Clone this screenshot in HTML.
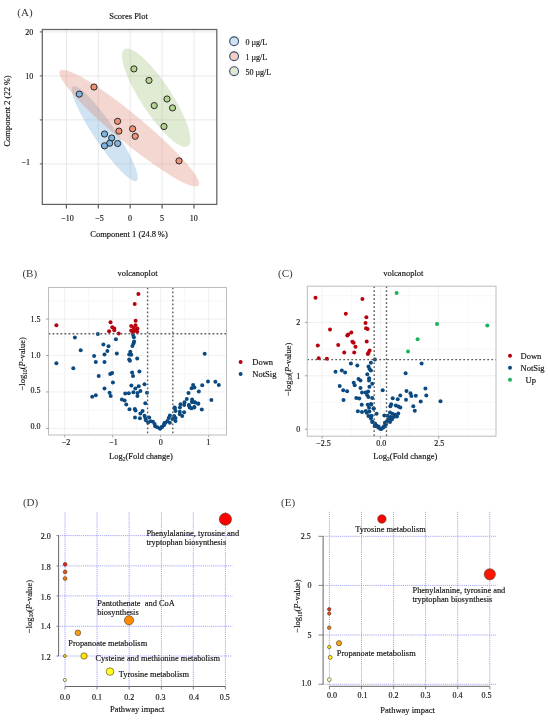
<!DOCTYPE html>
<html><head><meta charset="utf-8"><style>
html,body{margin:0;padding:0;background:#fff;}
svg{display:block;filter:blur(0.4px);}
text{font-family:"Liberation Serif", serif;fill:#111;stroke:#111;stroke-width:0.15px;}
</style></head><body>
<svg width="550" height="720" viewBox="0 0 550 720">
<rect width="550" height="720" fill="#fff"/>
<text x="17.3" y="15.8" font-size="11" text-anchor="start" style="stroke-width:0;fill:#3a3a3a">(A)</text>
<text x="128.6" y="18.6" font-size="8.5" text-anchor="middle" >Scores Plot</text>
<line x1="66.39999999999999" y1="29.5" x2="66.39999999999999" y2="204.4" stroke="#e3e3e3" stroke-width="0.8" />
<line x1="98.29999999999998" y1="29.5" x2="98.29999999999998" y2="204.4" stroke="#e3e3e3" stroke-width="0.8" />
<line x1="130.2" y1="29.5" x2="130.2" y2="204.4" stroke="#e3e3e3" stroke-width="0.8" />
<line x1="162.1" y1="29.5" x2="162.1" y2="204.4" stroke="#e3e3e3" stroke-width="0.8" />
<line x1="194.0" y1="29.5" x2="194.0" y2="204.4" stroke="#e3e3e3" stroke-width="0.8" />
<line x1="42.3" y1="31.900000000000006" x2="216.8" y2="31.900000000000006" stroke="#e3e3e3" stroke-width="0.8" />
<line x1="42.3" y1="75.9" x2="216.8" y2="75.9" stroke="#e3e3e3" stroke-width="0.8" />
<line x1="42.3" y1="119.9" x2="216.8" y2="119.9" stroke="#e3e3e3" stroke-width="0.8" />
<line x1="42.3" y1="163.9" x2="216.8" y2="163.9" stroke="#e3e3e3" stroke-width="0.8" />
<ellipse cx="104.8" cy="133.7" rx="57" ry="10.5" transform="rotate(56 104.8 133.7)" fill="#62a2d6" fill-opacity="0.3"/>
<ellipse cx="129.3" cy="128.2" rx="90" ry="14" transform="rotate(39.6 129.3 128.2)" fill="#dc7a62" fill-opacity="0.3"/>
<ellipse cx="156.2" cy="97.7" rx="58" ry="15.3" transform="rotate(56.8 156.2 97.7)" fill="#95b866" fill-opacity="0.28"/>
<circle cx="133.9" cy="68.9" r="3.1" fill="#b5d38c" stroke="#222" stroke-width="0.95"/>
<circle cx="149" cy="80.4" r="3.1" fill="#b5d38c" stroke="#222" stroke-width="0.95"/>
<circle cx="167" cy="99" r="3.1" fill="#b5d38c" stroke="#222" stroke-width="0.95"/>
<circle cx="154.2" cy="105.6" r="3.1" fill="#b5d38c" stroke="#222" stroke-width="0.95"/>
<circle cx="172.5" cy="107.9" r="3.1" fill="#b5d38c" stroke="#222" stroke-width="0.95"/>
<circle cx="164" cy="126.5" r="3.1" fill="#b5d38c" stroke="#222" stroke-width="0.95"/>
<circle cx="94" cy="87" r="3.1" fill="#f09276" stroke="#222" stroke-width="0.95"/>
<circle cx="117.6" cy="121.3" r="3.1" fill="#f09276" stroke="#222" stroke-width="0.95"/>
<circle cx="118.9" cy="131.1" r="3.1" fill="#f09276" stroke="#222" stroke-width="0.95"/>
<circle cx="132.6" cy="128.8" r="3.1" fill="#f09276" stroke="#222" stroke-width="0.95"/>
<circle cx="135.2" cy="136.3" r="3.1" fill="#f09276" stroke="#222" stroke-width="0.95"/>
<circle cx="179" cy="160.9" r="3.1" fill="#f09276" stroke="#222" stroke-width="0.95"/>
<circle cx="79.3" cy="94.1" r="3.1" fill="#80b3e0" stroke="#222" stroke-width="0.95"/>
<circle cx="104.5" cy="134" r="3.1" fill="#80b3e0" stroke="#222" stroke-width="0.95"/>
<circle cx="111.7" cy="138" r="3.1" fill="#80b3e0" stroke="#222" stroke-width="0.95"/>
<circle cx="109.7" cy="143.2" r="3.1" fill="#80b3e0" stroke="#222" stroke-width="0.95"/>
<circle cx="104.5" cy="145.8" r="3.1" fill="#80b3e0" stroke="#222" stroke-width="0.95"/>
<circle cx="117.6" cy="143.5" r="3.1" fill="#80b3e0" stroke="#222" stroke-width="0.95"/>
<rect x="42.3" y="29.5" width="174.5" height="174.9" fill="none" stroke="#636363" stroke-width="1.25"/>
<line x1="66.39999999999999" y1="204.4" x2="66.39999999999999" y2="208.4" stroke="#5a5a5a" stroke-width="1.2" />
<text x="67.6" y="220.8" font-size="8" text-anchor="middle" >&#8722;10</text>
<line x1="98.29999999999998" y1="204.4" x2="98.29999999999998" y2="208.4" stroke="#5a5a5a" stroke-width="1.2" />
<text x="99.49999999999999" y="220.8" font-size="8" text-anchor="middle" >&#8722;5</text>
<line x1="130.2" y1="204.4" x2="130.2" y2="208.4" stroke="#5a5a5a" stroke-width="1.2" />
<text x="130.0" y="220.8" font-size="8" text-anchor="middle" >0</text>
<line x1="162.1" y1="204.4" x2="162.1" y2="208.4" stroke="#5a5a5a" stroke-width="1.2" />
<text x="161.9" y="220.8" font-size="8" text-anchor="middle" >5</text>
<line x1="194.0" y1="204.4" x2="194.0" y2="208.4" stroke="#5a5a5a" stroke-width="1.2" />
<text x="193.8" y="220.8" font-size="8" text-anchor="middle" >10</text>
<line x1="39.8" y1="31.900000000000006" x2="42.3" y2="31.900000000000006" stroke="#5a5a5a" stroke-width="1" />
<line x1="39.8" y1="75.9" x2="42.3" y2="75.9" stroke="#5a5a5a" stroke-width="1" />
<line x1="39.8" y1="119.9" x2="42.3" y2="119.9" stroke="#5a5a5a" stroke-width="1" />
<line x1="39.8" y1="163.9" x2="42.3" y2="163.9" stroke="#5a5a5a" stroke-width="1" />
<text x="33.3" y="34.5" font-size="8" text-anchor="end" >20</text>
<text x="33.3" y="78.5" font-size="8" text-anchor="end" >10</text>
<text x="30" y="165.4" font-size="8" text-anchor="end" >&#8722;1</text>
<text x="129" y="237.3" font-size="8.5" text-anchor="middle" >Component 1 (24.8&#8201;%)</text>
<text x="0" y="0" font-size="8.5" text-anchor="middle" transform="translate(10.2 111) rotate(-90)">Component 2 (22&#8201;%)</text>
<circle cx="234.1" cy="41.3" r="4.4" fill="#cfe2f3" stroke="#3c4a68" stroke-width="1.1"/>
<text x="245.5" y="45.4" font-size="8" text-anchor="start" >0 &#181;g/L</text>
<circle cx="234.1" cy="56.25" r="4.4" fill="#f4cfc6" stroke="#3c4a68" stroke-width="1.1"/>
<text x="245.5" y="60.35" font-size="8" text-anchor="start" >1 &#181;g/L</text>
<circle cx="234.1" cy="71.19999999999999" r="4.4" fill="#dfeacf" stroke="#3c4a68" stroke-width="1.1"/>
<text x="245.5" y="75.29999999999998" font-size="8" text-anchor="start" >50 &#181;g/L</text>
<text x="22.4" y="276.6" font-size="11" text-anchor="start" style="stroke-width:0;fill:#3a3a3a">(B)</text>
<text x="137.5" y="275.8" font-size="8.5" text-anchor="middle" >volcanoplot</text>
<line x1="88.69999999999999" y1="287.5" x2="88.69999999999999" y2="435" stroke="#f3f3f3" stroke-width="0.6" />
<line x1="136.7" y1="287.5" x2="136.7" y2="435" stroke="#f3f3f3" stroke-width="0.6" />
<line x1="184.7" y1="287.5" x2="184.7" y2="435" stroke="#f3f3f3" stroke-width="0.6" />
<line x1="48.5" y1="410.17499999999995" x2="226.5" y2="410.17499999999995" stroke="#f3f3f3" stroke-width="0.6" />
<line x1="48.5" y1="373.72499999999997" x2="226.5" y2="373.72499999999997" stroke="#f3f3f3" stroke-width="0.6" />
<line x1="48.5" y1="337.275" x2="226.5" y2="337.275" stroke="#f3f3f3" stroke-width="0.6" />
<line x1="48.5" y1="300.82499999999993" x2="226.5" y2="300.82499999999993" stroke="#f3f3f3" stroke-width="0.6" />
<line x1="64.69999999999999" y1="287.5" x2="64.69999999999999" y2="435" stroke="#eaeaea" stroke-width="0.7" />
<line x1="112.69999999999999" y1="287.5" x2="112.69999999999999" y2="435" stroke="#eaeaea" stroke-width="0.7" />
<line x1="160.7" y1="287.5" x2="160.7" y2="435" stroke="#eaeaea" stroke-width="0.7" />
<line x1="208.7" y1="287.5" x2="208.7" y2="435" stroke="#eaeaea" stroke-width="0.7" />
<line x1="48.5" y1="428.4" x2="226.5" y2="428.4" stroke="#eaeaea" stroke-width="0.7" />
<line x1="48.5" y1="391.95" x2="226.5" y2="391.95" stroke="#eaeaea" stroke-width="0.7" />
<line x1="48.5" y1="355.5" x2="226.5" y2="355.5" stroke="#eaeaea" stroke-width="0.7" />
<line x1="48.5" y1="319.04999999999995" x2="226.5" y2="319.04999999999995" stroke="#eaeaea" stroke-width="0.7" />
<g fill="#0b4a80"><circle cx="74.9" cy="337.4" r="2.0"/><circle cx="97.8" cy="334.1" r="2.0"/><circle cx="103.4" cy="344.6" r="2.0"/><circle cx="115.9" cy="339.3" r="2.0"/><circle cx="108.5" cy="346.2" r="2.0"/><circle cx="133.1" cy="335" r="2.0"/><circle cx="133.9" cy="337.2" r="2.0"/><circle cx="134.1" cy="341.5" r="2.0"/><circle cx="133.5" cy="343.6" r="2.0"/><circle cx="132.4" cy="346.1" r="2.0"/><circle cx="80.7" cy="350.2" r="2.0"/><circle cx="56.4" cy="363.2" r="2.0"/><circle cx="73.3" cy="368.2" r="2.0"/><circle cx="94.1" cy="355.9" r="2.0"/><circle cx="95.8" cy="362.1" r="2.0"/><circle cx="104.5" cy="354.5" r="2.0"/><circle cx="104.5" cy="361.9" r="2.0"/><circle cx="107.4" cy="351" r="2.0"/><circle cx="98.7" cy="376.1" r="2.0"/><circle cx="104.5" cy="388.4" r="2.0"/><circle cx="95.8" cy="395.2" r="2.0"/><circle cx="92.2" cy="396.8" r="2.0"/><circle cx="116.8" cy="353.4" r="2.0"/><circle cx="130.3" cy="351.8" r="2.0"/><circle cx="129.2" cy="354.6" r="2.0"/><circle cx="131.3" cy="354.7" r="2.0"/><circle cx="129.2" cy="359.4" r="2.0"/><circle cx="129.9" cy="360.8" r="2.0"/><circle cx="137.2" cy="358.5" r="2.0"/><circle cx="110.2" cy="373.9" r="2.0"/><circle cx="112.1" cy="373.1" r="2.0"/><circle cx="132.1" cy="372.4" r="2.0"/><circle cx="133" cy="375.9" r="2.0"/><circle cx="139.4" cy="371.4" r="2.0"/><circle cx="112.9" cy="382.4" r="2.0"/><circle cx="109.6" cy="392.7" r="2.0"/><circle cx="110.7" cy="395.9" r="2.0"/><circle cx="131.4" cy="385.6" r="2.0"/><circle cx="135.3" cy="388.5" r="2.0"/><circle cx="138.7" cy="386.2" r="2.0"/><circle cx="144.5" cy="384.2" r="2.0"/><circle cx="125.2" cy="393.5" r="2.0"/><circle cx="128.8" cy="393.2" r="2.0"/><circle cx="133.4" cy="392.2" r="2.0"/><circle cx="137.5" cy="393" r="2.0"/><circle cx="140.4" cy="391" r="2.0"/><circle cx="137.4" cy="396" r="2.0"/><circle cx="147" cy="392.7" r="2.0"/><circle cx="121.9" cy="399.5" r="2.0"/><circle cx="124.6" cy="400.6" r="2.0"/><circle cx="126.3" cy="404.4" r="2.0"/><circle cx="145.3" cy="403.3" r="2.0"/><circle cx="204.7" cy="353.7" r="2.0"/><circle cx="208" cy="381.4" r="2.0"/><circle cx="215.4" cy="381.7" r="2.0"/><circle cx="218.8" cy="384.9" r="2.0"/><circle cx="202.2" cy="385.3" r="2.0"/><circle cx="193.1" cy="385.1" r="2.0"/><circle cx="191.6" cy="388.3" r="2.0"/><circle cx="194.4" cy="387.4" r="2.0"/><circle cx="198.8" cy="391.4" r="2.0"/><circle cx="188.5" cy="393.1" r="2.0"/><circle cx="211.4" cy="400" r="2.0"/><circle cx="186.8" cy="399.1" r="2.0"/><circle cx="192.1" cy="399.4" r="2.0"/><circle cx="191.9" cy="401.9" r="2.0"/><circle cx="194.6" cy="402.3" r="2.0"/><circle cx="198.2" cy="403.6" r="2.0"/><circle cx="184.5" cy="402.3" r="2.0"/><circle cx="180.5" cy="404.3" r="2.0"/><circle cx="188.8" cy="405.1" r="2.0"/><circle cx="184.2" cy="405.1" r="2.0"/><circle cx="194.2" cy="407.4" r="2.0"/><circle cx="174.7" cy="407.4" r="2.0"/><circle cx="179.9" cy="407.4" r="2.0"/><circle cx="129.5" cy="409.3" r="2.0"/><circle cx="134.8" cy="408.9" r="2.0"/><circle cx="135.5" cy="410.4" r="2.0"/><circle cx="142.6" cy="410.9" r="2.0"/><circle cx="140.4" cy="413.6" r="2.0"/><circle cx="135" cy="417.4" r="2.0"/><circle cx="139.9" cy="418.3" r="2.0"/><circle cx="144.5" cy="415.8" r="2.0"/><circle cx="145.3" cy="418" r="2.0"/><circle cx="145.9" cy="420.2" r="2.0"/><circle cx="148.1" cy="422.4" r="2.0"/><circle cx="149.2" cy="417.4" r="2.0"/><circle cx="150.8" cy="421.3" r="2.0"/><circle cx="153" cy="421.8" r="2.0"/><circle cx="154.6" cy="424" r="2.0"/><circle cx="155.2" cy="426.2" r="2.0"/><circle cx="157.3" cy="427.3" r="2.0"/><circle cx="160.1" cy="428.6" r="2.0"/><circle cx="161.7" cy="427.3" r="2.0"/><circle cx="163.9" cy="425.1" r="2.0"/><circle cx="164.4" cy="422.9" r="2.0"/><circle cx="192.4" cy="401.8" r="2.0"/><circle cx="195.2" cy="402.4" r="2.0"/><circle cx="198.3" cy="403.7" r="2.0"/><circle cx="189" cy="405.5" r="2.0"/><circle cx="189.7" cy="407.4" r="2.0"/><circle cx="194.4" cy="407.1" r="2.0"/><circle cx="191.5" cy="408.3" r="2.0"/><circle cx="201.8" cy="409.6" r="2.0"/><circle cx="174.8" cy="408.6" r="2.0"/><circle cx="175.5" cy="411.1" r="2.0"/><circle cx="179.8" cy="411.7" r="2.0"/><circle cx="184.1" cy="412.3" r="2.0"/><circle cx="179.8" cy="414.2" r="2.0"/><circle cx="182.2" cy="416" r="2.0"/><circle cx="174.2" cy="416" r="2.0"/><circle cx="169.9" cy="415.4" r="2.0"/><circle cx="168.7" cy="417.9" r="2.0"/><circle cx="175.5" cy="417.9" r="2.0"/><circle cx="172.4" cy="419.1" r="2.0"/><circle cx="175.5" cy="421" r="2.0"/><circle cx="167.4" cy="421" r="2.0"/><circle cx="165.6" cy="422.8" r="2.0"/><circle cx="169.9" cy="422.8" r="2.0"/><circle cx="163.7" cy="425.3" r="2.0"/><circle cx="161.9" cy="427.1" r="2.0"/><circle cx="160" cy="428.4" r="2.0"/></g>
<g fill="#b8000f"><circle cx="56.4" cy="325.2" r="2.0"/><circle cx="138.4" cy="294.1" r="2.0"/><circle cx="134.7" cy="303.9" r="2.0"/><circle cx="135.6" cy="320.8" r="2.0"/><circle cx="110.5" cy="322.2" r="2.0"/><circle cx="112.3" cy="327.3" r="2.0"/><circle cx="114.3" cy="328.4" r="2.0"/><circle cx="114.3" cy="330.3" r="2.0"/><circle cx="109.1" cy="331.2" r="2.0"/><circle cx="118.7" cy="333.6" r="2.0"/><circle cx="131.2" cy="325.9" r="2.0"/><circle cx="135.5" cy="325.2" r="2.0"/><circle cx="133.9" cy="327.9" r="2.0"/><circle cx="137.4" cy="328.4" r="2.0"/><circle cx="131.2" cy="330.6" r="2.0"/><circle cx="135" cy="330.6" r="2.0"/><circle cx="137.2" cy="331.7" r="2.0"/><circle cx="132.8" cy="332.3" r="2.0"/></g>
<line x1="147.6" y1="287.5" x2="147.6" y2="435" stroke="#5c5c5c" stroke-width="1.4" stroke-dasharray="1.8 2.2"/>
<line x1="172.8" y1="287.5" x2="172.8" y2="435" stroke="#5c5c5c" stroke-width="1.4" stroke-dasharray="1.8 2.2"/>
<line x1="48.5" y1="333.7" x2="226.5" y2="333.7" stroke="#5c5c5c" stroke-width="1.4" stroke-dasharray="1.8 2.2"/>
<rect x="48.5" y="287.5" width="178.0" height="147.5" fill="none" stroke="#bdbdbd" stroke-width="1"/>
<line x1="64.69999999999999" y1="435" x2="64.69999999999999" y2="437.5" stroke="#999" stroke-width="0.8" />
<text x="66.0" y="444.8" font-size="8" text-anchor="middle" >&#8722;2</text>
<line x1="112.69999999999999" y1="435" x2="112.69999999999999" y2="437.5" stroke="#999" stroke-width="0.8" />
<text x="113.6" y="444.8" font-size="8" text-anchor="middle" >&#8722;1</text>
<line x1="160.7" y1="435" x2="160.7" y2="437.5" stroke="#999" stroke-width="0.8" />
<text x="160.8" y="444.8" font-size="8" text-anchor="middle" >0</text>
<line x1="208.7" y1="435" x2="208.7" y2="437.5" stroke="#999" stroke-width="0.8" />
<text x="208.2" y="444.8" font-size="8" text-anchor="middle" >1</text>
<line x1="46.0" y1="428.4" x2="48.5" y2="428.4" stroke="#888" stroke-width="0.8" />
<text x="40.6" y="429.0" font-size="8" text-anchor="end" >0.0</text>
<line x1="46.0" y1="391.95" x2="48.5" y2="391.95" stroke="#888" stroke-width="0.8" />
<text x="40.6" y="393.3" font-size="8" text-anchor="end" >0.5</text>
<line x1="46.0" y1="355.5" x2="48.5" y2="355.5" stroke="#888" stroke-width="0.8" />
<text x="40.6" y="358.09999999999997" font-size="8" text-anchor="end" >1.0</text>
<line x1="46.0" y1="319.04999999999995" x2="48.5" y2="319.04999999999995" stroke="#888" stroke-width="0.8" />
<text x="40.6" y="321.59999999999997" font-size="8" text-anchor="end" >1.5</text>
<text x="141" y="459.3" font-size="8.5" text-anchor="middle">Log<tspan font-size="5.5" dy="1.5">2</tspan><tspan dy="-1.5">(Fold change)</tspan></text>
<text x="0" y="0" font-size="8.5" text-anchor="middle" transform="translate(25.2 363.8) rotate(-90)">&#8722;log<tspan font-size="5.5" dy="1.5">10</tspan><tspan dy="-1.5">(</tspan><tspan font-style="italic">P</tspan>-value)</text>
<circle cx="240.6" cy="361.9" r="2" fill="#b8000f"/><circle cx="240.6" cy="373.9" r="2" fill="#0b4a80"/>
<text x="252.3" y="364.6" font-size="8.5" text-anchor="start" >Down</text>
<text x="252.3" y="376.6" font-size="8.5" text-anchor="start" >NotSig</text>
<text x="278" y="276.5" font-size="11" text-anchor="start" style="stroke-width:0;fill:#3a3a3a">(C)</text>
<text x="403.3" y="275.7" font-size="8.5" text-anchor="middle" >volcanoplot</text>
<line x1="351.275" y1="286.2" x2="351.275" y2="436.2" stroke="#f3f3f3" stroke-width="0.6" />
<line x1="409.525" y1="286.2" x2="409.525" y2="436.2" stroke="#f3f3f3" stroke-width="0.6" />
<line x1="467.775" y1="286.2" x2="467.775" y2="436.2" stroke="#f3f3f3" stroke-width="0.6" />
<line x1="307.3" y1="402.5" x2="496" y2="402.5" stroke="#f3f3f3" stroke-width="0.6" />
<line x1="307.3" y1="349.1" x2="496" y2="349.1" stroke="#f3f3f3" stroke-width="0.6" />
<line x1="307.3" y1="295.7" x2="496" y2="295.7" stroke="#f3f3f3" stroke-width="0.6" />
<line x1="322.15" y1="286.2" x2="322.15" y2="436.2" stroke="#eaeaea" stroke-width="0.7" />
<line x1="380.4" y1="286.2" x2="380.4" y2="436.2" stroke="#eaeaea" stroke-width="0.7" />
<line x1="438.65" y1="286.2" x2="438.65" y2="436.2" stroke="#eaeaea" stroke-width="0.7" />
<line x1="307.3" y1="429.2" x2="496" y2="429.2" stroke="#eaeaea" stroke-width="0.7" />
<line x1="307.3" y1="375.8" x2="496" y2="375.8" stroke="#eaeaea" stroke-width="0.7" />
<line x1="307.3" y1="322.4" x2="496" y2="322.4" stroke="#eaeaea" stroke-width="0.7" />
<g fill="#0b4a80"><circle cx="374.9" cy="359.5" r="2.0"/><circle cx="370.9" cy="362.7" r="2.0"/><circle cx="350.9" cy="363.6" r="2.0"/><circle cx="357.3" cy="365.5" r="2.0"/><circle cx="368.5" cy="366.4" r="2.0"/><circle cx="369.5" cy="369.1" r="2.0"/><circle cx="370.9" cy="370.4" r="2.0"/><circle cx="335.5" cy="371.8" r="2.0"/><circle cx="341.8" cy="370.4" r="2.0"/><circle cx="345.1" cy="372.4" r="2.0"/><circle cx="367.3" cy="374.2" r="2.0"/><circle cx="358.5" cy="379.1" r="2.0"/><circle cx="369.1" cy="378.2" r="2.0"/><circle cx="421.6" cy="363.4" r="2.0"/><circle cx="405.6" cy="373.2" r="2.0"/><circle cx="360.5" cy="380.6" r="2.0"/><circle cx="369" cy="380.4" r="2.0"/><circle cx="353.7" cy="382.7" r="2.0"/><circle cx="354.7" cy="385.2" r="2.0"/><circle cx="372.2" cy="383.8" r="2.0"/><circle cx="339.7" cy="386.1" r="2.0"/><circle cx="369.4" cy="386.7" r="2.0"/><circle cx="360.5" cy="388" r="2.0"/><circle cx="343.2" cy="390.3" r="2.0"/><circle cx="347.1" cy="391.2" r="2.0"/><circle cx="362" cy="392.5" r="2.0"/><circle cx="365.6" cy="392.5" r="2.0"/><circle cx="368.1" cy="391.6" r="2.0"/><circle cx="367.1" cy="395" r="2.0"/><circle cx="368.4" cy="396.9" r="2.0"/><circle cx="372.2" cy="397.9" r="2.0"/><circle cx="356.3" cy="397.9" r="2.0"/><circle cx="359.2" cy="398.4" r="2.0"/><circle cx="343.5" cy="400.1" r="2.0"/><circle cx="361.7" cy="404.8" r="2.0"/><circle cx="367.7" cy="404.8" r="2.0"/><circle cx="370.9" cy="403.9" r="2.0"/><circle cx="369" cy="407.7" r="2.0"/><circle cx="373.5" cy="408.4" r="2.0"/><circle cx="357.9" cy="411.3" r="2.0"/><circle cx="362" cy="411.9" r="2.0"/><circle cx="365.8" cy="410.9" r="2.0"/><circle cx="366.8" cy="412.8" r="2.0"/><circle cx="369.4" cy="411.5" r="2.0"/><circle cx="368.4" cy="416" r="2.0"/><circle cx="371.5" cy="416" r="2.0"/><circle cx="370.9" cy="418.5" r="2.0"/><circle cx="372.2" cy="422.1" r="2.0"/><circle cx="374.7" cy="423.6" r="2.0"/><circle cx="374.7" cy="426.2" r="2.0"/><circle cx="382.7" cy="390.3" r="2.0"/><circle cx="425.4" cy="388.5" r="2.0"/><circle cx="406.5" cy="391" r="2.0"/><circle cx="410.5" cy="393.2" r="2.0"/><circle cx="411.4" cy="396" r="2.0"/><circle cx="415.8" cy="395.7" r="2.0"/><circle cx="426.3" cy="395.5" r="2.0"/><circle cx="400.3" cy="395.5" r="2.0"/><circle cx="392.7" cy="398.3" r="2.0"/><circle cx="397.7" cy="399.2" r="2.0"/><circle cx="406" cy="399.8" r="2.0"/><circle cx="420.7" cy="401.5" r="2.0"/><circle cx="440.5" cy="401.2" r="2.0"/><circle cx="413.3" cy="406.3" r="2.0"/><circle cx="414.8" cy="410.7" r="2.0"/><circle cx="391.2" cy="404.3" r="2.0"/><circle cx="390.4" cy="406.3" r="2.0"/><circle cx="395.8" cy="405.6" r="2.0"/><circle cx="398.4" cy="406.6" r="2.0"/><circle cx="400.3" cy="407.4" r="2.0"/><circle cx="390" cy="412.5" r="2.0"/><circle cx="392.5" cy="413.8" r="2.0"/><circle cx="395.1" cy="414.7" r="2.0"/><circle cx="398.3" cy="413.4" r="2.0"/><circle cx="384.3" cy="415.5" r="2.0"/><circle cx="387.5" cy="415.7" r="2.0"/><circle cx="390.6" cy="417" r="2.0"/><circle cx="393.8" cy="417" r="2.0"/><circle cx="397" cy="416.4" r="2.0"/><circle cx="388.7" cy="418.9" r="2.0"/><circle cx="391.9" cy="419.5" r="2.0"/><circle cx="390" cy="422.1" r="2.0"/><circle cx="386.8" cy="421.5" r="2.0"/><circle cx="384.9" cy="422.7" r="2.0"/><circle cx="385.9" cy="424.4" r="2.0"/><circle cx="384" cy="426.3" r="2.0"/><circle cx="382.1" cy="428.2" r="2.0"/><circle cx="380.2" cy="428.8" r="2.0"/><circle cx="378.3" cy="427.5" r="2.0"/><circle cx="376.4" cy="425.6" r="2.0"/><circle cx="375.1" cy="423.7" r="2.0"/><circle cx="372.5" cy="421.8" r="2.0"/><circle cx="376.6" cy="413.8" r="2.0"/><circle cx="373.8" cy="408.5" r="2.0"/><circle cx="371.3" cy="404.6" r="2.0"/><circle cx="371.3" cy="416.1" r="2.0"/><circle cx="378.5" cy="426.5" r="2.0"/><circle cx="381.1" cy="429.1" r="2.0"/><circle cx="383.6" cy="427.2" r="2.0"/></g>
<g fill="#b8000f"><circle cx="315.5" cy="297.8" r="2.0"/><circle cx="362.4" cy="299.1" r="2.0"/><circle cx="345.8" cy="313.8" r="2.0"/><circle cx="366.4" cy="317.3" r="2.0"/><circle cx="365.5" cy="323.1" r="2.0"/><circle cx="366" cy="328.2" r="2.0"/><circle cx="367.6" cy="329.1" r="2.0"/><circle cx="330" cy="329.5" r="2.0"/><circle cx="351.3" cy="332.4" r="2.0"/><circle cx="348.2" cy="334.5" r="2.0"/><circle cx="347.3" cy="335.6" r="2.0"/><circle cx="366.7" cy="341.5" r="2.0"/><circle cx="352.4" cy="341.8" r="2.0"/><circle cx="353.6" cy="342.7" r="2.0"/><circle cx="355.5" cy="346.7" r="2.0"/><circle cx="317.8" cy="345.5" r="2.0"/><circle cx="338.2" cy="344.9" r="2.0"/><circle cx="344.2" cy="352.4" r="2.0"/><circle cx="354.2" cy="352.4" r="2.0"/><circle cx="369.6" cy="350.5" r="2.0"/><circle cx="368.5" cy="352.7" r="2.0"/><circle cx="367.8" cy="354" r="2.0"/><circle cx="318.7" cy="358.2" r="2.0"/><circle cx="326.9" cy="358.7" r="2.0"/></g>
<g fill="#19b35c"><circle cx="396.6" cy="293" r="2.0"/><circle cx="437" cy="324" r="2.0"/><circle cx="417.6" cy="339.2" r="2.0"/><circle cx="408" cy="351.6" r="2.0"/><circle cx="487.3" cy="325.5" r="2.0"/></g>
<line x1="374.2" y1="286.2" x2="374.2" y2="436.2" stroke="#5c5c5c" stroke-width="1.4" stroke-dasharray="1.8 2.2"/>
<line x1="386.5" y1="286.2" x2="386.5" y2="436.2" stroke="#5c5c5c" stroke-width="1.4" stroke-dasharray="1.8 2.2"/>
<line x1="307.3" y1="359.6" x2="496" y2="359.6" stroke="#5c5c5c" stroke-width="1.4" stroke-dasharray="1.8 2.2"/>
<rect x="307.3" y="286.2" width="188.7" height="150.0" fill="none" stroke="#bdbdbd" stroke-width="1"/>
<line x1="322.15" y1="436.2" x2="322.15" y2="438.7" stroke="#888" stroke-width="0.8" />
<text x="323.6" y="445.5" font-size="8" text-anchor="middle" >&#8722;2.5</text>
<line x1="380.4" y1="436.2" x2="380.4" y2="438.7" stroke="#888" stroke-width="0.8" />
<text x="381.2" y="445.5" font-size="8" text-anchor="middle" >0.0</text>
<line x1="438.65" y1="436.2" x2="438.65" y2="438.7" stroke="#888" stroke-width="0.8" />
<text x="439.2" y="445.5" font-size="8" text-anchor="middle" >2.5</text>
<line x1="304.8" y1="429.2" x2="307.3" y2="429.2" stroke="#888" stroke-width="0.8" />
<text x="300.3" y="431.9" font-size="8" text-anchor="end" >0</text>
<line x1="304.8" y1="375.8" x2="307.3" y2="375.8" stroke="#888" stroke-width="0.8" />
<text x="300.3" y="378.5" font-size="8" text-anchor="end" >1</text>
<line x1="304.8" y1="322.4" x2="307.3" y2="322.4" stroke="#888" stroke-width="0.8" />
<text x="300.3" y="325.09999999999997" font-size="8" text-anchor="end" >2</text>
<text x="405.3" y="459.3" font-size="8.5" text-anchor="middle">Log<tspan font-size="5.5" dy="1.5">2</tspan><tspan dy="-1.5">(Fold change)</tspan></text>
<text x="0" y="0" font-size="8.5" text-anchor="middle" transform="translate(290.6 369.4) rotate(-90)">&#8722;log<tspan font-size="5.5" dy="1.5">10</tspan><tspan dy="-1.5">(</tspan><tspan font-style="italic">P</tspan>-value)</text>
<circle cx="510" cy="355.8" r="2" fill="#b8000f"/><circle cx="510" cy="367.8" r="2" fill="#0b4a80"/><circle cx="510" cy="379.8" r="2" fill="#19b35c"/>
<text x="520.5" y="359.4" font-size="8.5" text-anchor="start" >Down</text>
<text x="520.5" y="370.8" font-size="8.5" text-anchor="start" >NotSig</text>
<text x="525.5" y="383.4" font-size="8.5" text-anchor="start" >Up</text>
<text x="22.9" y="505.8" font-size="11" text-anchor="start" style="stroke-width:0;fill:#3a3a3a">(D)</text>
<line x1="65.0" y1="512.1" x2="65.0" y2="686.5" stroke="#9c9cf6" stroke-width="0.9" stroke-dasharray="1.2 0.9"/>
<line x1="97.0" y1="512.1" x2="97.0" y2="686.5" stroke="#9c9cf6" stroke-width="0.9" stroke-dasharray="1.2 0.9"/>
<line x1="129.1" y1="512.1" x2="129.1" y2="686.5" stroke="#9c9cf6" stroke-width="0.9" stroke-dasharray="1.2 0.9"/>
<line x1="161.4" y1="512.1" x2="161.4" y2="686.5" stroke="#9c9cf6" stroke-width="0.9" stroke-dasharray="1.2 0.9"/>
<line x1="193.3" y1="512.1" x2="193.3" y2="686.5" stroke="#9c9cf6" stroke-width="0.9" stroke-dasharray="1.2 0.9"/>
<line x1="225.4" y1="512.1" x2="225.4" y2="686.5" stroke="#9c9cf6" stroke-width="0.9" stroke-dasharray="1.2 0.9"/>
<line x1="57.8" y1="535.6" x2="232.4" y2="535.6" stroke="#9c9cf6" stroke-width="0.9" stroke-dasharray="1.2 0.9"/>
<line x1="57.8" y1="565.9" x2="232.4" y2="565.9" stroke="#9c9cf6" stroke-width="0.9" stroke-dasharray="1.2 0.9"/>
<line x1="57.8" y1="595.9" x2="232.4" y2="595.9" stroke="#9c9cf6" stroke-width="0.9" stroke-dasharray="1.2 0.9"/>
<line x1="57.8" y1="626.3" x2="232.4" y2="626.3" stroke="#9c9cf6" stroke-width="0.9" stroke-dasharray="1.2 0.9"/>
<line x1="57.8" y1="656.0" x2="232.4" y2="656.0" stroke="#9c9cf6" stroke-width="0.9" stroke-dasharray="1.2 0.9"/>
<line x1="58.6" y1="535.6" x2="58.6" y2="656.0" stroke="#666" stroke-width="1" />
<line x1="65.0" y1="686.5" x2="225.4" y2="686.5" stroke="#666" stroke-width="1" />
<line x1="65.0" y1="686.5" x2="65.0" y2="689.5" stroke="#666" stroke-width="0.8" />
<line x1="97.0" y1="686.5" x2="97.0" y2="689.5" stroke="#666" stroke-width="0.8" />
<line x1="129.1" y1="686.5" x2="129.1" y2="689.5" stroke="#666" stroke-width="0.8" />
<line x1="161.4" y1="686.5" x2="161.4" y2="689.5" stroke="#666" stroke-width="0.8" />
<line x1="193.3" y1="686.5" x2="193.3" y2="689.5" stroke="#666" stroke-width="0.8" />
<line x1="225.4" y1="686.5" x2="225.4" y2="689.5" stroke="#666" stroke-width="0.8" />
<line x1="56.5" y1="535.6" x2="58.6" y2="535.6" stroke="#666" stroke-width="0.8" />
<line x1="56.5" y1="565.9" x2="58.6" y2="565.9" stroke="#666" stroke-width="0.8" />
<line x1="56.5" y1="595.9" x2="58.6" y2="595.9" stroke="#666" stroke-width="0.8" />
<line x1="56.5" y1="626.3" x2="58.6" y2="626.3" stroke="#666" stroke-width="0.8" />
<line x1="56.5" y1="656.0" x2="58.6" y2="656.0" stroke="#666" stroke-width="0.8" />
<text x="50.8" y="539.0" font-size="8" text-anchor="end" >2.0</text>
<text x="50.8" y="569.7" font-size="8" text-anchor="end" >1.8</text>
<text x="50.8" y="599.7" font-size="8" text-anchor="end" >1.6</text>
<text x="50.8" y="629.4000000000001" font-size="8" text-anchor="end" >1.4</text>
<text x="50.8" y="660.2" font-size="8" text-anchor="end" >1.2</text>
<text x="65.0" y="699.9" font-size="8" text-anchor="middle" >0.0</text>
<text x="97.1" y="699.9" font-size="8" text-anchor="middle" >0.1</text>
<text x="129.3" y="699.9" font-size="8" text-anchor="middle" >0.2</text>
<text x="160.5" y="699.9" font-size="8" text-anchor="middle" >0.3</text>
<text x="194.0" y="699.9" font-size="8" text-anchor="middle" >0.4</text>
<text x="224.8" y="699.9" font-size="8" text-anchor="middle" >0.5</text>
<text x="137.2" y="712" font-size="8.5" text-anchor="middle" >Pathway impact</text>
<text x="0" y="0" font-size="8.5" text-anchor="middle" transform="translate(31.8 606.5) rotate(-90)">&#8722;log<tspan font-size="5.5" dy="1.5">10</tspan><tspan dy="-1.5">(</tspan><tspan font-style="italic">P</tspan>-value)</text>
<circle cx="225.4" cy="519.2" r="6.1" fill="#ff0000" stroke="#4a3a20" stroke-width="0.6"/>
<circle cx="129.0" cy="620.3" r="4.6" fill="#ff8c00" stroke="#4a3a20" stroke-width="0.6"/>
<circle cx="65.1" cy="564.3" r="1.9" fill="#e8201a" stroke="#4a3a20" stroke-width="0.6"/>
<circle cx="65.1" cy="571.9" r="1.9" fill="#ec5018" stroke="#4a3a20" stroke-width="0.6"/>
<circle cx="65.1" cy="578.5" r="1.9" fill="#f07a14" stroke="#4a3a20" stroke-width="0.6"/>
<circle cx="77.9" cy="632.8" r="2.8" fill="#f6a012" stroke="#4a3a20" stroke-width="0.6"/>
<circle cx="84.0" cy="656.0" r="3.2" fill="#ffe600" stroke="#4a3a20" stroke-width="0.6"/>
<circle cx="64.9" cy="656.0" r="1.5" fill="#f4d400" stroke="#4a3a20" stroke-width="0.6"/>
<circle cx="110.0" cy="671.6" r="3.8" fill="#ffff22" stroke="#4a3a20" stroke-width="0.6"/>
<circle cx="64.9" cy="679.9" r="1.6" fill="#ffffc4" stroke="#4a3a20" stroke-width="0.6"/>
<text x="146.4" y="536" font-size="8.4" text-anchor="start" >Phenylalanine, tyrosine and</text>
<text x="146.4" y="544.7" font-size="8.4" text-anchor="start" >tryptophan biosynthesis</text>
<text x="97.3" y="605.5" font-size="8.4" text-anchor="start" >Pantothenate&#160; and CoA</text>
<text x="97.3" y="614.9" font-size="8.4" text-anchor="start" >biosynthesis</text>
<text x="68.3" y="646.0" font-size="8.4" text-anchor="start" >Propanoate metabolism</text>
<text x="95.5" y="660.5" font-size="8.4" text-anchor="start" >Cysteine and methionine metabolism</text>
<text x="118.7" y="676.5" font-size="8.4" text-anchor="start" >Tyrosine metabolism</text>
<text x="281" y="506.3" font-size="11" text-anchor="start" style="stroke-width:0;fill:#3a3a3a">(E)</text>
<line x1="329.4" y1="511.8" x2="329.4" y2="686.3" stroke="#9c9cf6" stroke-width="0.9" stroke-dasharray="1.2 0.9"/>
<line x1="361.5" y1="511.8" x2="361.5" y2="686.3" stroke="#9c9cf6" stroke-width="0.9" stroke-dasharray="1.2 0.9"/>
<line x1="393.6" y1="511.8" x2="393.6" y2="686.3" stroke="#9c9cf6" stroke-width="0.9" stroke-dasharray="1.2 0.9"/>
<line x1="425.6" y1="511.8" x2="425.6" y2="686.3" stroke="#9c9cf6" stroke-width="0.9" stroke-dasharray="1.2 0.9"/>
<line x1="457.7" y1="511.8" x2="457.7" y2="686.3" stroke="#9c9cf6" stroke-width="0.9" stroke-dasharray="1.2 0.9"/>
<line x1="489.8" y1="511.8" x2="489.8" y2="686.3" stroke="#9c9cf6" stroke-width="0.9" stroke-dasharray="1.2 0.9"/>
<line x1="323.0" y1="536.3" x2="496.0" y2="536.3" stroke="#9c9cf6" stroke-width="0.9" stroke-dasharray="1.2 0.9"/>
<line x1="323.0" y1="585.4" x2="496.0" y2="585.4" stroke="#9c9cf6" stroke-width="0.9" stroke-dasharray="1.2 0.9"/>
<line x1="323.0" y1="635.0" x2="496.0" y2="635.0" stroke="#9c9cf6" stroke-width="0.9" stroke-dasharray="1.2 0.9"/>
<line x1="323.0" y1="684.3" x2="496.0" y2="684.3" stroke="#9c9cf6" stroke-width="0.9" stroke-dasharray="1.2 0.9"/>
<line x1="323.1" y1="536.3" x2="323.1" y2="684.3" stroke="#666" stroke-width="1" />
<line x1="329.4" y1="686.3" x2="489.8" y2="686.3" stroke="#666" stroke-width="1" />
<line x1="329.4" y1="686.3" x2="329.4" y2="689.3" stroke="#666" stroke-width="0.8" />
<line x1="361.5" y1="686.3" x2="361.5" y2="689.3" stroke="#666" stroke-width="0.8" />
<line x1="393.6" y1="686.3" x2="393.6" y2="689.3" stroke="#666" stroke-width="0.8" />
<line x1="425.6" y1="686.3" x2="425.6" y2="689.3" stroke="#666" stroke-width="0.8" />
<line x1="457.7" y1="686.3" x2="457.7" y2="689.3" stroke="#666" stroke-width="0.8" />
<line x1="489.8" y1="686.3" x2="489.8" y2="689.3" stroke="#666" stroke-width="0.8" />
<line x1="318.5" y1="536.3" x2="323.1" y2="536.3" stroke="#666" stroke-width="0.8" />
<line x1="318.5" y1="585.4" x2="323.1" y2="585.4" stroke="#666" stroke-width="0.8" />
<line x1="318.5" y1="635.0" x2="323.1" y2="635.0" stroke="#666" stroke-width="0.8" />
<line x1="318.5" y1="684.3" x2="323.1" y2="684.3" stroke="#666" stroke-width="0.8" />
<text x="310.8" y="539.2" font-size="8" text-anchor="end" >2.5</text>
<text x="311.5" y="588.3" font-size="8" text-anchor="end" >0</text>
<text x="311.5" y="637.7" font-size="8" text-anchor="end" >5</text>
<text x="311.2" y="685.9" font-size="8" text-anchor="end" >1.0</text>
<text x="332.1" y="698.4" font-size="8" text-anchor="middle" >0.0</text>
<text x="362.6" y="698.4" font-size="8" text-anchor="middle" >0.1</text>
<text x="393.6" y="698.4" font-size="8" text-anchor="middle" >0.2</text>
<text x="425.6" y="698.4" font-size="8" text-anchor="middle" >0.3</text>
<text x="457.4" y="698.4" font-size="8" text-anchor="middle" >0.4</text>
<text x="486.4" y="698.4" font-size="8" text-anchor="middle" >0.5</text>
<text x="407.6" y="712.7" font-size="8.5" text-anchor="middle" >Pathway impact</text>
<text x="0" y="0" font-size="8.5" text-anchor="middle" transform="translate(300.4 606) rotate(-90)">&#8722;log<tspan font-size="5.5" dy="1.5">10</tspan><tspan dy="-1.5">(</tspan><tspan font-style="italic">P</tspan>-value)</text>
<circle cx="381.9" cy="519.0" r="4.2" fill="#ff0000" stroke="#4a3a20" stroke-width="0.6"/>
<circle cx="489.8" cy="574.3" r="5.6" fill="#ff1500" stroke="#4a3a20" stroke-width="0.6"/>
<circle cx="329.2" cy="609.2" r="1.7" fill="#e82a18" stroke="#4a3a20" stroke-width="0.6"/>
<circle cx="329.2" cy="613.5" r="1.7" fill="#ec4c18" stroke="#4a3a20" stroke-width="0.6"/>
<circle cx="329.2" cy="627.7" r="1.8" fill="#f07814" stroke="#4a3a20" stroke-width="0.6"/>
<circle cx="339.0" cy="643.2" r="2.6" fill="#f6a412" stroke="#4a3a20" stroke-width="0.6"/>
<circle cx="329.2" cy="647.1" r="1.7" fill="#f8e000" stroke="#4a3a20" stroke-width="0.6"/>
<circle cx="330.2" cy="657.4" r="2.0" fill="#ffee10" stroke="#4a3a20" stroke-width="0.6"/>
<circle cx="329.3" cy="679.7" r="1.9" fill="#ffffc0" stroke="#4a3a20" stroke-width="0.6"/>
<text x="355.3" y="531.8" font-size="8.4" text-anchor="start" >Tyrosine metabolism</text>
<text x="412.5" y="592.6" font-size="8.4" text-anchor="start" >Phenylalanine, tyrosine and</text>
<text x="412.5" y="602.1" font-size="8.4" text-anchor="start" >tryptophan biosynthesis</text>
<text x="336.8" y="656.3" font-size="8.4" text-anchor="start" >Propanoate metabolism</text>
</svg></body></html>
